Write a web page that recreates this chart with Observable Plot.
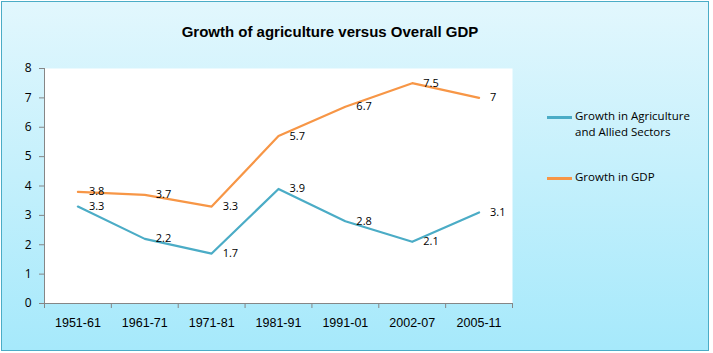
<!DOCTYPE html>
<html>
<head>
<meta charset="utf-8">
<script src="https://cdn.jsdelivr.net/npm/d3@7"></script>
<script src="https://cdn.jsdelivr.net/npm/@observablehq/plot@0.6"></script>
<style>
  html, body { margin: 0; padding: 0; background: #ffffff; }
  #wrap { position: relative; width: 713px; height: 353px; overflow: hidden; }
  #panel { position: absolute; left: 1px; top: 1px; width: 706px; height: 348px;
    border: 1.5px solid #4bacc6; background: linear-gradient(#e2f7fd, #a6e9fb); }
  #chart { position: absolute; left: 0; top: 0; }
  #title { position: absolute; left: 0; width: 660px; top: 23px; text-align: center;
    font-family: "Liberation Sans Narrow", "Arial Narrow", "Liberation Sans", sans-serif;
    font-weight: bold; font-size: 15px; color: #000; }
  .leg { position: absolute; font-family: "Open Sans", "DejaVu Sans", sans-serif; font-size: 11.5px; color: #000; line-height: 16px; }
  .sw { position: absolute; width: 25px; height: 2.5px; }
</style>
</head>
<body>
<div id="wrap">
  <div id="panel"></div>
  <div id="chart"></div>
  <div id="title"></div>
  <div id="legend"></div>
</div>
<script>
const categories = ["1951-61", "1961-71", "1971-81", "1981-91", "1991-01", "2002-07", "2005-11"];
const agriculture = [3.3, 2.2, 1.7, 3.9, 2.8, 2.1, 3.1];
const gdp = [3.8, 3.7, 3.3, 5.7, 6.7, 7.5, 7];
const yTicks = [0, 1, 2, 3, 4, 5, 6, 7, 8];
const seriesNames = ["Growth in Agriculture and Allied Sectors", "Growth in GDP"];
const seriesColors = ["#4bacc6", "#f79646"];
const titleText = "Growth of agriculture versus Overall GDP";

const rows = [];
[agriculture, gdp].forEach((vals, s) => {
  vals.forEach((v, i) => rows.push({ pos: i + 0.5, cat: categories[i], value: v, series: seriesNames[s] }));
});

const labelFont = "'Open Sans', 'DejaVu Sans', sans-serif";
const narrowFont = "'Liberation Sans Narrow', 'Arial Narrow', 'Liberation Sans', sans-serif";

const chart = Plot.plot({
  width: 713, height: 353,
  marginLeft: 44, marginRight: 201, marginTop: 68, marginBottom: 50,
  style: { background: "transparent", overflow: "visible" },
  x: { type: "linear", domain: [0, categories.length] },
  y: { domain: [0, 8] },
  color: { domain: seriesNames, range: seriesColors },
  marks: [
    Plot.frame({ fill: "white", stroke: null }),
    Plot.axisY({ ticks: yTicks, tickSize: 5, tickPadding: 8, stroke: "#868686", fill: "black",
      fontSize: 12, fontFamily: labelFont, label: null, tickFormat: d => String(d) }),
    Plot.axisX({ ticks: d3.range(0, categories.length + 1), tickSize: 5, stroke: "#868686",
      tickFormat: () => "", label: null }),
    Plot.axisX({ ticks: categories.map((_, i) => i + 0.5), tickSize: 0, tickPadding: 15,
      fill: "black", fontSize: 12.5, fontFamily: narrowFont, label: null,
      tickFormat: v => categories[Math.floor(v)] }),
    Plot.ruleX([0], { stroke: "#868686" }),
    Plot.ruleY([0], { stroke: "#868686" }),
    Plot.line(rows, { x: "pos", y: "value", z: "series", stroke: "series", strokeWidth: 2.2 }),
    Plot.text(rows, { x: "pos", y: "value", text: d => String(d.value), dx: 11, textAnchor: "start",
      fontSize: 11, fontFamily: labelFont, fill: "black" })
  ]
});
document.getElementById("chart").appendChild(chart);
document.getElementById("title").textContent = titleText;

const legend = document.getElementById("legend");
const legY = [117, 178];
const legLines = [["Growth in Agriculture", "and Allied Sectors"], ["Growth in GDP"]];
seriesNames.forEach((name, s) => {
  const sw = document.createElement("div");
  sw.className = "sw";
  sw.style.left = "547px";
  sw.style.top = (legY[s] - 1) + "px";
  sw.style.background = seriesColors[s];
  legend.appendChild(sw);
  const t = document.createElement("div");
  t.className = "leg";
  t.style.left = "575px";
  t.style.top = (legY[s] - 9) + "px";
  t.innerHTML = legLines[s].join("<br>");
  legend.appendChild(t);
});
</script>
</body>
</html>
